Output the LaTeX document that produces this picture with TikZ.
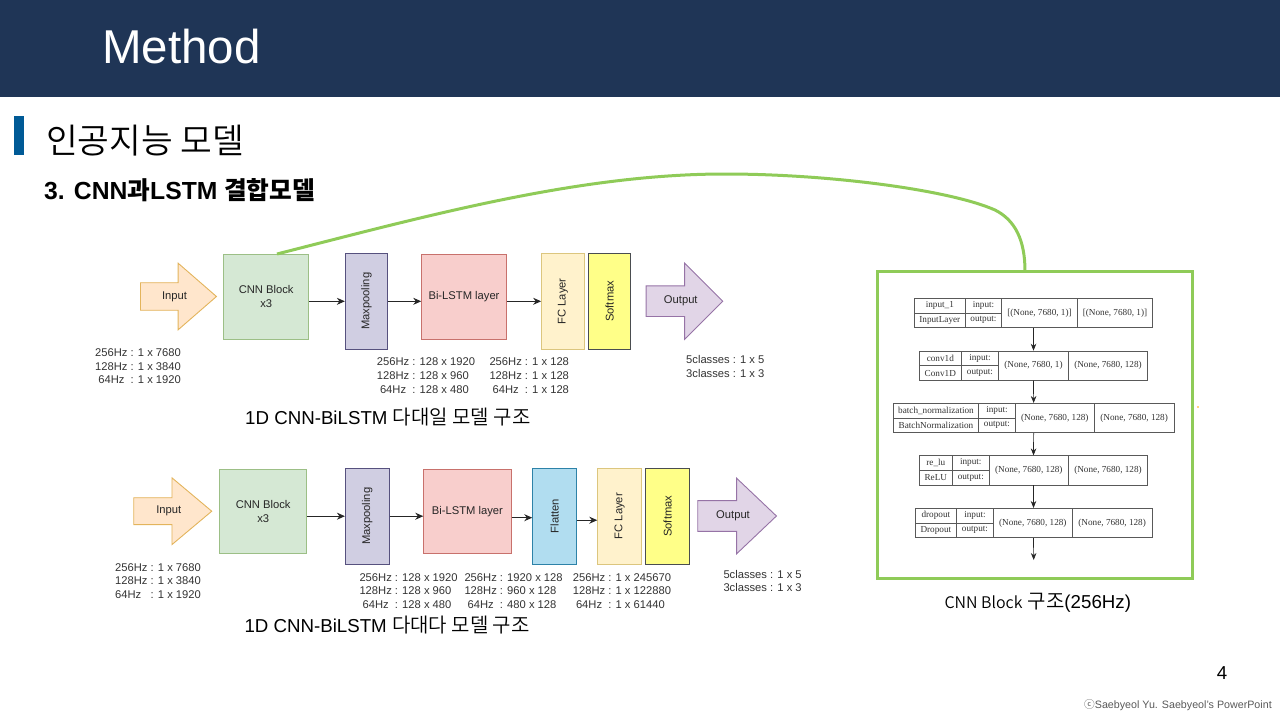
\documentclass[tikz,border=0pt]{standalone}
\usepackage{fontspec}
\setmainfont{Liberation Sans}
\newfontfamily\kr{Noto Sans CJK KR DemiLight}
\newfontfamily\krb{Noto Sans CJK KR Bold}
\newfontfamily\tbl{Liberation Serif}
\usetikzlibrary{shapes.arrows,arrows.meta,positioning}
\definecolor{banner}{HTML}{1F3556}
\definecolor{accent}{HTML}{005A96}
\definecolor{linkgreen}{HTML}{8FCB58}
\definecolor{cnnfill}{HTML}{D5E8D4}
\definecolor{cnnline}{HTML}{9CBF86}
\definecolor{maxfill}{HTML}{D0CEE2}
\definecolor{maxline}{HTML}{56517E}
\definecolor{lstmfill}{HTML}{F8CECC}
\definecolor{lstmline}{HTML}{C8716C}
\definecolor{fcfill}{HTML}{FFF2CC}
\definecolor{fcline}{HTML}{DCC67E}
\definecolor{softfill}{HTML}{FFFF88}
\definecolor{softline}{HTML}{4A4D50}
\definecolor{flatfill}{HTML}{B1DDF0}
\definecolor{flatline}{HTML}{2D82A8}
\definecolor{infill}{HTML}{FFE6CC}
\definecolor{inline}{HTML}{E3B45C}
\definecolor{outfill}{HTML}{E1D5E7}
\definecolor{outline}{HTML}{9673A6}
\tikzset{
    block/.style={draw, line width=0.9pt, inner sep=0pt, align=center, font=\fontsize{11.2}{13.7}\selectfont, text=black!85},
    flowarrow/.style={single arrow, anchor=tail, draw, line width=0.9pt, inner xsep=0pt, single arrow head indent=0pt, font=\fontsize{11.2}{13.7}\selectfont, text=black!85},
    sizes/.style={anchor=west, align=left, inner sep=0pt, font=\fontsize{11.2}{13.7}\selectfont, text=black!80},
    caption/.style={anchor=west, inner sep=0pt, font=\fontsize{18.7}{22}\selectfont},
    flow/.style={-{Stealth[length=8pt,width=7pt]}, line width=0.9pt, black!85},
    tablearrow/.style={-{Stealth[length=7pt,width=5.5pt]}, line width=0.7pt, black!85},
    cell/.style={draw=black!65, line width=0.6pt, inner sep=0pt},
    celltext/.style={inner sep=0pt, font=\tbl\fontsize{9.2}{10}\selectfont, text=black!80},
}
\begin{document}
\begin{tikzpicture}[x=1pt, y=-1pt]
    \useasboundingbox (0,0) rectangle (1280,720);

    % Slide header
    \fill[banner] (0,0) rectangle (1280,97);
    \node[anchor=west, inner sep=0pt, text=white, font=\fontsize{47.5}{50}\selectfont] (title) at (102,47) {Method};
    \fill[accent] (14,116) rectangle (24,155);
    \node[anchor=west, inner sep=0pt, font=\kr\fontsize{34.5}{38}\selectfont] (section) at (46,141) {인공지능 모델};
    \node[anchor=west, inner sep=0pt, font=\fontsize{24.7}{28}\selectfont\bfseries] (heading) at (44,190) {3. CNN{\krb 과}LSTM {\krb 결합모델}};

    % Many-to-one model
    \node[flowarrow, fill=infill, draw=inline, inner ysep=8.3pt, minimum height=76pt, single arrow head extend=19.5pt, single arrow tip angle=82] (inA) at (140,296.5) {\hspace{8pt}Input};
    \node[block, fill=cnnfill, draw=cnnline, minimum width=85pt, minimum height=84.7pt] (cnnA) at (266.2,296.7) {CNN Block\\x3};
    \node[block, fill=maxfill, draw=maxline, minimum width=42.4pt, minimum height=96pt] (maxA) at (366.5,301.3) {\rotatebox{90}{Maxpooling}};
    \node[block, fill=lstmfill, draw=lstmline, minimum width=84.6pt, minimum height=84.7pt] (lstmA) at (464,296.7) {Bi-LSTM layer};
    \node[block, fill=fcfill, draw=fcline, minimum width=42.4pt, minimum height=96pt] (fcA) at (562.8,301.3) {\rotatebox{90}{FC Layer}};
    \node[block, fill=softfill, draw=softline, minimum width=42.6pt, minimum height=96pt] (softA) at (609.6,301.3) {\rotatebox{90}{Softmax}};
    \node[flowarrow, fill=outfill, draw=outline, inner ysep=9.8pt, minimum height=76.6pt, single arrow head extend=22.8pt, single arrow tip angle=90] (outA) at (645.7,301.2) {\hspace{8pt}Output};

    \draw[flow] (cnnA.east |- maxA.west) -- (maxA.west);
    \draw[flow] (maxA.east) -- (maxA.east -| lstmA.west);
    \draw[flow] (lstmA.east |- fcA.west) -- (fcA.west);

    \node[sizes] (inSizeA) at (95,366.3) {256Hz : 1 x 7680\\128Hz : 1 x 3840\\\ 64Hz\ \ : 1 x 1920};
    \node[sizes] (maxSizeA) at (376.7,375.7) {256Hz : 128 x 1920\\128Hz : 128 x 960\\\ 64Hz\ \ : 128 x 480};
    \node[sizes] (lstmSizeA) at (489.3,375.7) {256Hz : 1 x 128\\128Hz : 1 x 128\\\ 64Hz\ \ : 1 x 128};
    \node[sizes] (outSizeA) at (686,366.3) {5classes : 1 x 5\\3classes : 1 x 3};
    \node[caption] (capA) at (245,417) {1D CNN-BiLSTM {\kr\fontsize{20}{22}\selectfont 다대일 모델 구조}};

    % Many-to-many model
    \node[flowarrow, fill=infill, draw=inline, inner ysep=8pt, minimum height=78pt, single arrow head extend=19.9pt, single arrow tip angle=80] (inB) at (133.3,511.2) {\hspace{8pt}Input};
    \node[block, fill=cnnfill, draw=cnnline, minimum width=87pt, minimum height=84.4pt] (cnnB) at (263.2,511.5) {CNN Block\\x3};
    \node[block, fill=maxfill, draw=maxline, minimum width=43.7pt, minimum height=95.7pt] (maxB) at (367.2,516.2) {\rotatebox{90}{Maxpooling}};
    \node[block, fill=lstmfill, draw=lstmline, minimum width=87.3pt, minimum height=84.4pt] (lstmB) at (467.4,511.5) {Bi-LSTM layer};
    \node[block, fill=flatfill, draw=flatline, minimum width=44pt, minimum height=95.7pt] (flatB) at (554.7,516.2) {\rotatebox{90}{Flatten}};
    \node[block, fill=fcfill, draw=fcline, minimum width=44pt, minimum height=95.7pt] (fcB) at (619.7,516.2) {\rotatebox{90}{FC Layer}};
    \node[block, fill=softfill, draw=softline, minimum width=44pt, minimum height=95.7pt] (softB) at (667.7,516.2) {\rotatebox{90}{Softmax}};
    \node[flowarrow, fill=outfill, draw=outline, inner ysep=9.8pt, minimum height=78.7pt, single arrow head extend=22.5pt, single arrow tip angle=87] (outB) at (697.3,516) {\hspace{8pt}Output};

    \draw[flow] (cnnB.east |- maxB.west) -- (maxB.west);
    \draw[flow] (maxB.east) -- (maxB.east -| lstmB.west);
    \draw[flow] ([yshift=-1.5pt]lstmB.east |- flatB.west) -- ([yshift=-1.5pt]flatB.west);
    \draw[flow] ([yshift=-4pt]flatB.east) -- ([yshift=-4pt]fcB.west);

    \node[sizes] (inSizeB) at (115,581) {256Hz : 1 x 7680\\128Hz : 1 x 3840\\64Hz\ \ \ : 1 x 1920};
    \node[sizes] (maxSizeB) at (359.3,591) {256Hz : 128 x 1920\\128Hz : 128 x 960\\\ 64Hz\ \ : 128 x 480};
    \node[sizes] (lstmSizeB) at (464.3,591) {256Hz : 1920 x 128\\128Hz : 960 x 128\\\ 64Hz\ \ : 480 x 128};
    \node[sizes] (flatSizeB) at (572.7,591) {256Hz : 1 x 245670\\128Hz : 1 x 122880\\\ 64Hz\ \ : 1 x 61440};
    \node[sizes] (outSizeB) at (723.3,581) {5classes : 1 x 5\\3classes : 1 x 3};
    \node[caption] (capB) at (244.3,625) {1D CNN-BiLSTM {\kr\fontsize{20}{22}\selectfont 다대다 모델 구조}};

    % CNN block detail
    \node[draw=linkgreen, line width=3pt, inner sep=0pt, minimum width=315pt, minimum height=307pt] (frame) at (1034.5,424.5) {};
    \foreach \nm/\ya/\xa/\xb/\xc/\xd/\xe/\tname/\ttype/\inp/\outp in {
        1/298.3/914.3/965.3/1001.7/1077.3/1152.7/input\_1/InputLayer/{[(None, 7680, 1)]}/{[(None, 7680, 1)]},
        2/351/919.3/961.3/998.7/1068.3/1147.7/conv1d/Conv1D/{(None, 7680, 1)}/{(None, 7680, 128)},
        3/403.3/893.3/978.7/1015.3/1094.3/1174/batch\_normalization/BatchNormalization/{(None, 7680, 128)}/{(None, 7680, 128)},
        4/455.7/919.3/952.3/989.3/1068.3/1147.7/re\_lu/ReLU/{(None, 7680, 128)}/{(None, 7680, 128)},
        5/508.3/915/956.7/993.3/1072.3/1152/dropout/Dropout/{(None, 7680, 128)}/{(None, 7680, 128)}} {
        \pgfmathsetmacro{\ym}{\ya+14.7}
        \pgfmathsetmacro{\yb}{\ya+29.4}
        \pgfmathsetmacro{\yt}{\ya+7.2}
        \pgfmathsetmacro{\yu}{\ya+22}
        \node[cell, minimum width={(\xe-\xa)*1pt}, minimum height=29.4pt] (layer\nm) at ({(\xa+\xe)/2},\ym) {};
        \draw[cell] (\xb,\ya) -- (\xb,\yb);
        \draw[cell] (\xc,\ya) -- (\xc,\yb);
        \draw[cell] (\xd,\ya) -- (\xd,\yb);
        \draw[cell] (\xa,\ym) -- (\xc,\ym);
        \node[celltext] (name\nm) at ({(\xa+\xb)/2},\yt) {\tname};
        \node[celltext] (type\nm) at ({(\xa+\xb)/2},\yu) {\ttype};
        \node[celltext] (in\nm) at ({(\xb+\xc)/2},\yt) {input:};
        \node[celltext] (out\nm) at ({(\xb+\xc)/2},\yu) {output:};
        \node[celltext] (shapea\nm) at ({(\xc+\xd)/2},\ym) {\inp};
        \node[celltext] (shapeb\nm) at ({(\xd+\xe)/2},\ym) {\outp};
    }
    \foreach \i [evaluate=\i as \k using int(\i+1)] in {1,...,4} {
        \draw[tablearrow] (layer\i.south) -- (layer\k.north);
    }
    \coordinate (layerEnd) at (1033.7,560);
    \draw[tablearrow] (layer5.south) -- (layerEnd);
    \node[caption] (capFrame) at (944.3,603) {{\kr\fontsize{16}{20}\selectfont CNN Block} {\kr\fontsize{20}{22}\selectfont 구조}(256Hz)};

    % Link from the block to its detail
    \coordinate (linkStart) at (277,254);
    \coordinate (linkEnd) at (1025,271);
    \draw[linkgreen, line width=3pt] (linkStart) .. controls (430,215) and (580,174) .. (725,174)
        .. controls (830,174) and (950,190) .. (995,210) .. controls (1015,220) and (1025,240) .. (linkEnd);
    \fill[orange!70!yellow] (1198,407) circle (0.9);

    % Footer
    \node[inner sep=0pt, font=\fontsize{18.7}{22}\selectfont] (page) at (1222,673) {4};
    \node[anchor=west, inner sep=0pt, text=black!65, font=\fontsize{10.7}{13}\selectfont] (credit) at (1084,705) {{\kr ⓒ}Saebyeol Yu. Saebyeol's PowerPoint};
\end{tikzpicture}
\end{document}
